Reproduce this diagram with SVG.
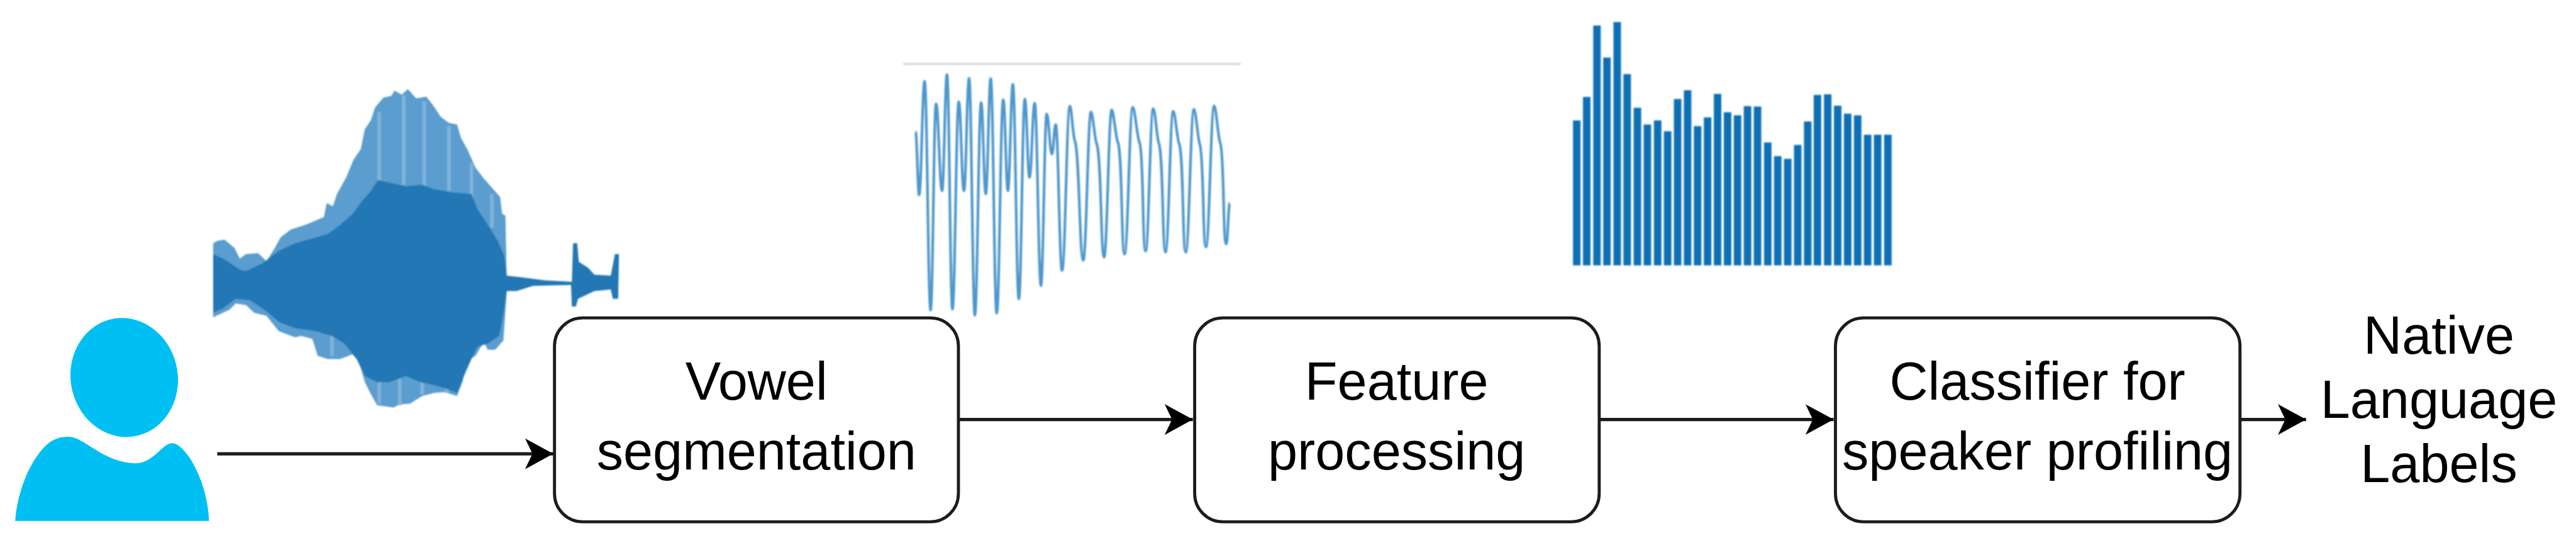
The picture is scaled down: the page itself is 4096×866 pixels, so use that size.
<svg xmlns="http://www.w3.org/2000/svg" width="4096" height="866" viewBox="0 0 4096 866">
<style>
.box{fill:#fff;stroke:#1c1c1c;stroke-width:5}
.lbl{font-family:"Liberation Sans",Arial,sans-serif;font-size:87px;fill:#000;text-anchor:middle}
.conn{fill:none;stroke:#1c1c1c;stroke-width:5.5;marker-end:url(#arrow)}
.bars rect{fill:#1170b5}
.stripe{stroke:#7fb3da;stroke-width:9;fill:none}
</style>
<defs>
<marker id="arrow" markerUnits="userSpaceOnUse" markerWidth="50" markerHeight="54" refX="46" refY="27" orient="auto" viewBox="0 0 50 54"><path d="M0 2L46 27L0 52L12 27Z" fill="#000"/></marker>
<filter id="soft" x="-5%" y="-5%" width="110%" height="110%"><feGaussianBlur stdDeviation="1.1"/></filter>
</defs>
<rect width="4096" height="866" fill="#fff"/>
<g transform="scale(0.97315)">
<g id="speaker" fill="#00bff3" transform="translate(0,100) scale(.6698,.5038)">
<ellipse cx="303" cy="1025" rx="131" ry="193" transform="rotate(-3 303 1025)"/>
<path d="M37 1490C42 1400 70 1300 112 1245C130 1222 150 1217 168 1217C205 1217 250 1300 330 1303C375 1303 395 1238 420 1238C450 1238 505 1350 510 1490Z"/>
</g>
<g id="waveform" filter="url(#soft)">
<g transform="translate(0,100) scale(.6698,.5038)">
<path fill="#5a9dce" d="M520 590L530 582L548 578L560 592L572 605L585 640L600 625L630 622L650 648L668 610L685 570L710 545L745 530L790 505L797 460L812 470L822 430L845 375L862 320L880 285L890 220L905 190L915 150L935 118L955 112L962 95L980 108L995 90L1015 120L1040 115L1055 140L1075 180L1095 200L1115 205L1125 250L1140 285L1160 345L1180 380L1200 410L1220 440L1225 495L1233 500L1236 700L1236 750L1228 905L1208 935L1190 935L1180 910L1160 955L1140 970L1128 1040L1115 1085L1085 1072L1060 1075L1030 1085L1000 1110L975 1112L960 1122L920 1115L905 1080L890 1040L875 970L860 950L830 965L800 965L775 955L762 900L735 890L720 895L680 875L650 825L620 815L600 790L575 785L560 805L520 830Z"/>
<path class="stripe" d="M925 165V400M985 110V400M1035 130V410M1095 210V420M1150 330V440M1200 430V540M925 1030V1110M975 1030V1115M1030 1040V1080M1090 1050V1075M810 890V955"/>
<path fill="#2077b4" d="M520 625L545 640L585 675L600 680L640 655L680 615L720 590L760 575L800 560L830 530L860 495L885 450L905 420L922 385L955 395L990 405L1030 400L1060 415L1105 425L1150 430L1165 480L1195 540L1215 585L1230 630L1236 695L1270 700L1330 710L1395 715L1398 590L1408 590L1412 650L1435 670L1450 692L1490 695L1500 625L1510 625L1508 770L1495 770L1490 740L1450 745L1410 770L1405 795L1395 795L1393 725L1300 728L1260 745L1236 745L1228 820L1218 890L1190 915L1165 925L1150 965L1135 1010L1115 1075L1085 1060L1060 1050L1025 1040L990 1020L950 1040L920 1040L890 1020L870 965L840 915L810 890L770 875L720 865L680 845L650 810L610 775L575 770L545 800L520 815Z"/>
</g>
</g>
<g id="pitch-trace" filter="url(#soft)">
<g transform="translate(1400,60) scale(.4464,.3333)">
<path d="M170 133H1405" fill="none" stroke="#d9d9d9" stroke-width="3.5" vector-effect="non-scaling-stroke"/>
<path fill="none" stroke="#4e97cd" stroke-width="4.2" stroke-linejoin="round" vector-effect="non-scaling-stroke" d="M215 465C220 465 223 775 228 775C236 775 240 218 248 218C257 218 261 1340 270 1340C278 1340 282 328 290 328C299 328 303 755 312 755C319 755 323 185 330 185C338 185 342 1335 350 1335C359 1335 364 318 373 318C381 318 384 755 392 755C400 755 403 203 411 203C419 203 424 1365 432 1365C441 1365 446 322 455 322C462 322 465 770 472 770C479 770 483 205 490 205C499 205 503 1355 512 1355C522 1355 526 308 536 308C543 308 546 755 553 755C560 755 564 233 571 233C580 233 584 1285 593 1285C602 1285 606 305 615 305C622 305 625 690 632 690C640 690 643 325 651 325C660 325 665 1220 674 1220C682 1220 687 378 695 378C703 378 706 575 714 575C720 575 722 430 728 430C737 430 742 1145 751 1145C763 1145 768 340 780 340C786 340 790 480 798 510C815 560 815 1095 829 1095C840 1095 846 368 857 368C864 368 870 500 878 525C895 575 893 1080 905 1080C916 1080 922 358 933 358C940 358 947 490 955 515C972 560 968 1065 980 1065C992 1065 998 345 1010 345C1018 345 1025 490 1035 520C1050 570 1045 1050 1057 1050C1068 1050 1074 352 1085 352C1092 352 1098 495 1105 520C1122 570 1118 1055 1130 1055C1141 1055 1147 365 1158 365C1165 365 1172 500 1180 525C1196 575 1192 1055 1204 1055C1216 1055 1222 355 1234 355C1241 355 1248 500 1255 525C1270 575 1266 1030 1278 1030C1290 1030 1296 338 1308 338C1315 338 1322 495 1330 520C1345 570 1340 1015 1352 1015C1358 1015 1360 815 1365 815"/>
</g>
</g>
<g id="spectrum" filter="url(#soft)">
<g class="bars" transform="translate(2480,20) scale(.408,.3333)">
<rect x="221" y="530" width="30" height="710"/><rect x="261" y="415" width="30" height="825"/><rect x="302" y="65" width="30" height="1175"/><rect x="342" y="222" width="30" height="1018"/><rect x="383" y="48" width="30" height="1192"/><rect x="423" y="303" width="30" height="937"/><rect x="464" y="468" width="30" height="772"/><rect x="504" y="550" width="30" height="690"/><rect x="545" y="530" width="30" height="710"/><rect x="585" y="583" width="30" height="657"/><rect x="625" y="425" width="30" height="815"/><rect x="665" y="382" width="30" height="858"/><rect x="705" y="558" width="30" height="682"/><rect x="745" y="515" width="30" height="725"/><rect x="785" y="400" width="30" height="840"/><rect x="825" y="490" width="30" height="750"/><rect x="865" y="505" width="30" height="735"/><rect x="905" y="460" width="30" height="780"/><rect x="945" y="462" width="30" height="778"/><rect x="986" y="638" width="30" height="602"/><rect x="1026" y="705" width="30" height="535"/><rect x="1066" y="718" width="30" height="522"/><rect x="1106" y="650" width="30" height="590"/><rect x="1146" y="535" width="30" height="705"/><rect x="1185" y="405" width="30" height="835"/><rect x="1226" y="402" width="30" height="838"/><rect x="1266" y="458" width="30" height="782"/><rect x="1306" y="497" width="30" height="743"/><rect x="1346" y="505" width="30" height="735"/><rect x="1386" y="600" width="30" height="640"/><rect x="1426" y="600" width="30" height="640"/><rect x="1467" y="600" width="30" height="640"/>
</g>
</g>
<g id="connectors">
<path class="conn" d="M355 741H904"/>
<path class="conn" d="M1566 685H1949"/>
<path class="conn" d="M2613 685H2996"/>
<path class="conn" d="M3660 685H3768"/>
</g>
<g id="vowel-segmentation">
<rect class="box" x="906" y="519" width="660" height="333" rx="46"/>
<text class="lbl" x="1236" y="653">Vowel</text><text class="lbl" x="1236" y="767">segmentation</text>
</g>
<g id="feature-processing">
<rect class="box" x="1952" y="519" width="661" height="333" rx="46"/>
<text class="lbl" x="2282" y="653">Feature</text><text class="lbl" x="2282" y="767">processing</text>
</g>
<g id="classifier">
<rect class="box" x="2999" y="519" width="661" height="333" rx="46"/>
<text class="lbl" x="3329" y="653">Classifier for</text><text class="lbl" x="3329" y="767">speaker profiling</text>
</g>
<g id="native-language-labels">
<text class="lbl" x="3985" y="578">Native</text><text class="lbl" x="3985" y="682">Language</text><text class="lbl" x="3985" y="787">Labels</text>
</g>
</g>
</svg>
